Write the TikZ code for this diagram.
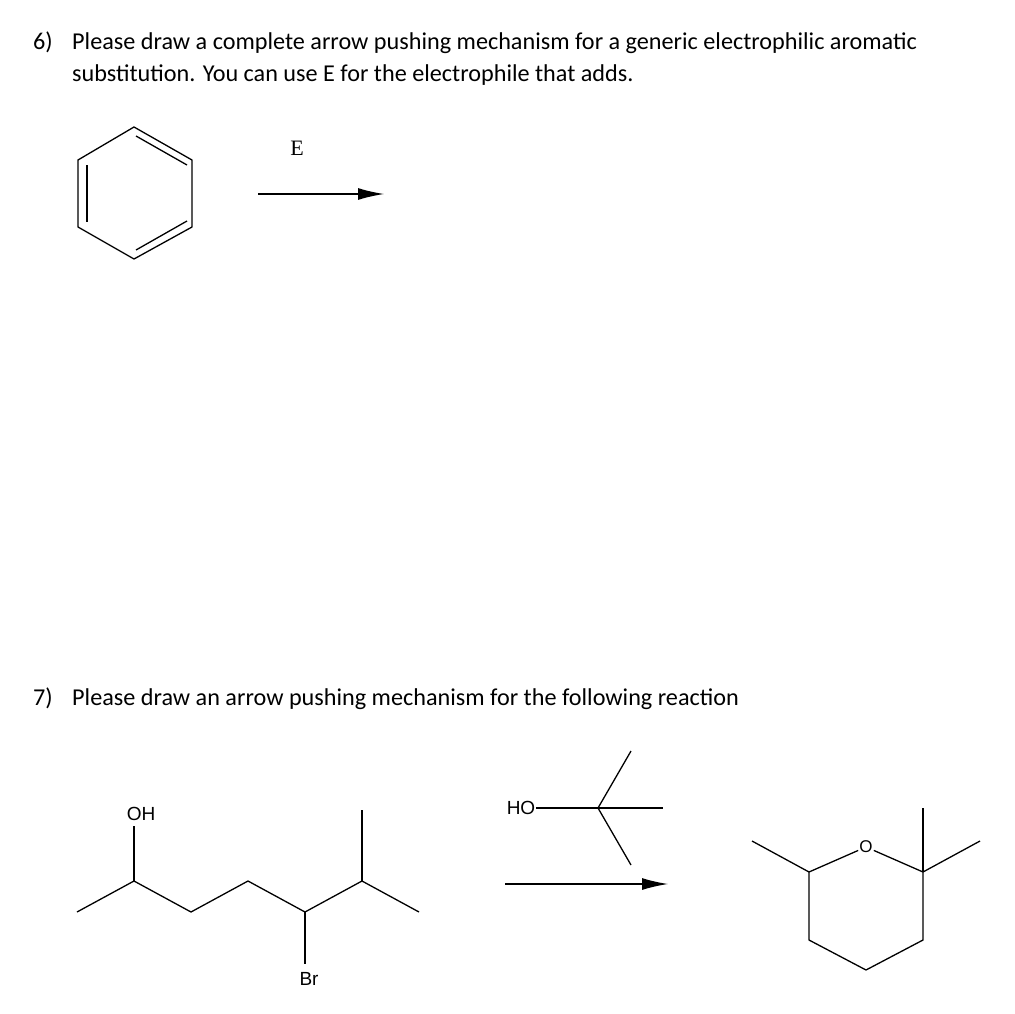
\documentclass[tikz,border=0pt]{standalone}
\usepackage{fontspec}
\setmainfont{Carlito}
\newfontfamily\arialf{Liberation Sans}
\newfontfamily\timesf{Liberation Serif}
\usetikzlibrary{arrows.meta}
\begin{document}
\begin{tikzpicture}[x=1pt,y=-1pt,
  bond/.style={line width=1.3pt},
  rxn/.style={line width=1.3pt,-{Latex[length=26pt,width=12pt]}},
  qtext/.style={anchor=base west,font=\fontsize{24.2}{28}\selectfont,inner sep=0pt},
  atom/.style={font=\arialf\fontsize{19}{21}\selectfont,inner sep=1pt}]
\useasboundingbox (0,0) rectangle (1014,1014);
\fill[white] (0,0) rectangle (1014,1014);
\node[qtext] (n6) at (33,50) {6)};
\node[qtext] (q6a) at (72,50) {Please draw a complete arrow pushing mechanism for a generic electrophilic aromatic};
\node[qtext] (q6b) at (72,82) {substitution. You can use E for the electrophile that adds.};
\node[qtext] (n7) at (33,705) {7)};
\node[qtext] (q7) at (72,705) {Please draw an arrow pushing mechanism for the following reaction};
% benzene
\coordinate (b1) at (134,127); \coordinate (b2) at (192,160); \coordinate (b3) at (192,227);
\coordinate (b4) at (134,259); \coordinate (b5) at (78,227); \coordinate (b6) at (78,160);
\draw[bond,line join=miter] (b1)--(b2)--(b3)--(b4)--(b5)--(b6)--cycle;
\draw[bond] (136,136)--(187,165);
\draw[bond] (87,165)--(87,222);
\draw[bond] (136,250)--(187,221);
\coordinate (a1s) at (258,194); \coordinate (a1e) at (384,194);
\draw[rxn] (a1s)--(a1e);
\node[font=\timesf\fontsize{22}{26}\selectfont] (E) at (297,148) {E};
% molecule 7
\node[atom] (OH) at (141,814) {OH};
\coordinate (c1) at (77,912); \coordinate (c2) at (134,881); \coordinate (c3) at (191,912);
\coordinate (c4) at (248,881); \coordinate (c5) at (305,912); \coordinate (c6) at (362,881);
\coordinate (c7) at (419,912); \coordinate (c8) at (362,810);
\node[atom] (Br) at (309,979) {Br};
\draw[bond] (c1)--(c2)--(c3)--(c4)--(c5)--(c6)--(c7);
\draw[bond] (c2)--(134,826);
\draw[bond] (c6)--(c8);
\draw[bond] (c5)--(305,964);
% reagent
\node[atom] (HO) at (521,808) {HO};
\coordinate (q) at (598,808);
\draw[bond] (HO.east)--(q)--(663,808);
\draw[bond] (q)--(631,751);
\draw[bond] (q)--(631,865);
\coordinate (a2s) at (505,884); \coordinate (a2e) at (668,884);
\draw[rxn] (a2s)--(a2e);
% product
\node[atom,font=\arialf\fontsize{17}{20}\selectfont] (O) at (866,847) {O};
\coordinate (r1) at (809,872); \coordinate (r2) at (809,940); \coordinate (r3) at (866,970);
\coordinate (r4) at (923,940); \coordinate (r5) at (923,872);
\draw[bond] (O)--(r1)--(r2)--(r3)--(r4)--(r5)--(O);
\draw[bond] (r1)--(752,841);
\draw[bond] (r5)--(923,808);
\draw[bond] (r5)--(980,841);
\end{tikzpicture}
\end{document}
